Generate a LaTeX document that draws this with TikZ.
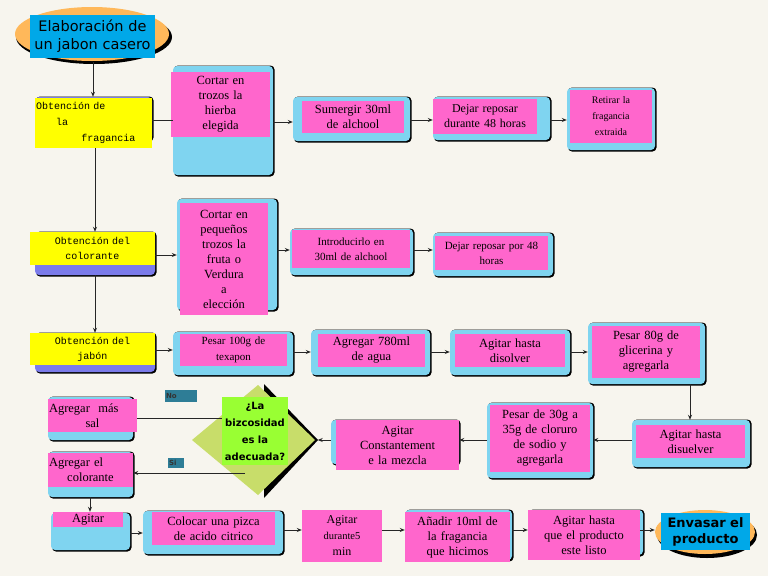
\documentclass[tikz,border=0pt]{standalone}
\usepackage{fontspec}
\setmainfont{Liberation Serif}
\newfontfamily\ttf{Liberation Mono}
\newfontfamily\sff{DejaVu Sans}
\usetikzlibrary{shapes.geometric,arrows.meta}
\definecolor{bg}{HTML}{F7F5EE}
\definecolor{bl}{HTML}{7FD4F0}
\definecolor{pk}{HTML}{FF66CC}
\definecolor{yl}{HTML}{FFFF00}
\definecolor{pu}{HTML}{7B7BEA}
\definecolor{dg}{HTML}{C8DD6A}
\definecolor{gr}{HTML}{99FF33}
\definecolor{or}{HTML}{FFB85A}
\definecolor{tb}{HTML}{00A8E8}
\definecolor{te}{HTML}{2E7D96}
\tikzset{x=1pt,y=-1pt,
 conn/.style={draw=black!85,line width=0.9pt},
 arr/.style={conn,-{Stealth[length=5pt,width=4pt]}},
 txt/.style={inner sep=1pt,align=center}}
% blue box: name x1 y1 x2 y2 fill
\newcommand\bbox[6]{%
 \fill[black,rounded corners=4pt] (#2+1,#3-0.5) rectangle (#4+1.5,#5+1.5);
 \fill[#6,rounded corners=4pt] (#2,#3) rectangle (#4,#5);
 \node[inner sep=0,minimum width={(#4-#2)*1pt},minimum height={(#5-#3)*1pt}] (#1) at ({(#2+#4)/2},{(#3+#5)/2}) {};}
% text rect: name x1 y1 x2 y2 fill font text
\newcommand\tbox[8]{%
 \node[fill=#6,inner sep=0,minimum width={(#4-#2)*1pt},minimum height={(#5-#3)*1pt}] (#1) at ({(#2+#4)/2},{(#3+#5)/2}) {};
 \node[txt,text width={(#4-#2-2)*1pt},font=\fontsize{12.5}{15}\selectfont#7] at (#1.center) {#8};}
\begin{document}
\begin{tikzpicture}
\fill[bg] (0,0) rectangle (768,576);
\useasboundingbox (0,0) rectangle (768,576);
% title
\fill[black] (94,37) ellipse (78 and 27);
\fill[or] (92,34) ellipse (77 and 27);
\tbox{titlet}{30}{15}{155}{58}{tb}{\sff\fontsize{14.5}{18}\selectfont}{Elaboración de\\un jabon casero}
% row 1
\bbox{frag}{35}{97}{152}{140}{pu}
\tbox{fragt}{35}{98}{152}{148}{yl}{\ttf\fontsize{10}{16}\selectfont}{\raggedright Obtención de\\\hspace*{2em}la\\\hspace*{3em}fragancia}
\bbox{cort}{173}{66}{273}{175}{bl}
\tbox{cortt}{171}{72}{270}{137}{pk}{}{Cortar en\\trozos la\\hierba\\elegida}
\bbox{sum}{293}{97}{410}{141}{bl}
\tbox{sumt}{302}{101}{404}{133}{pk}{}{Sumergir 30ml\\de alchool}
\bbox{dej}{433}{97}{550}{140}{bl}
\tbox{dejt}{433}{99}{537}{134}{pk}{\fontsize{12}{15}\selectfont}{Dejar reposar\\durante 48 horas}
\bbox{ret}{567}{88}{655}{150}{bl}
\tbox{rett}{570}{90}{652}{143}{pk}{\fontsize{10}{16}\selectfont}{Retirar la\\fragancia\\extraida}
% row 2
\bbox{col}{35}{232}{155}{275}{pu}
\tbox{colt}{30}{232}{155}{265}{yl}{\ttf\fontsize{10}{15}\selectfont}{Obtención del\\colorante}
\bbox{peq}{177}{199}{277}{310}{bl}
\tbox{peqt}{180}{203}{268}{315}{pk}{}{Cortar en\\pequeños\\trozos la\\fruta o\\Verdura\\a\\elección}
\bbox{intr}{290}{229}{413}{275}{bl}
\tbox{intrt}{292}{230}{410}{268}{pk}{\fontsize{11}{15}\selectfont}{Introducirlo en\\30ml de alchool}
\bbox{dej2}{433}{233}{553}{276}{bl}
\tbox{dej2t}{435}{236}{548}{270}{pk}{\fontsize{11}{15}\selectfont}{Dejar reposar por 48\\horas}
% row 3
\bbox{jab}{35}{333}{155}{372}{pu}
\tbox{jabt}{30}{333}{155}{365}{yl}{\ttf\fontsize{10}{15}\selectfont}{Obtención del\\jabón}
\bbox{pes}{173}{332}{293}{375}{bl}
\tbox{pest}{180}{334}{287}{366}{pk}{\fontsize{11}{16}\selectfont}{Pesar 100g de\\texapon}
\bbox{agr}{311}{330}{430}{375}{bl}
\tbox{agrt}{318}{334}{425}{367}{pk}{}{Agregar 780ml\\de agua}
\bbox{agi}{450}{330}{570}{375}{bl}
\tbox{agit}{455}{334}{565}{367}{pk}{}{Agitar hasta\\disolver}
\bbox{p80}{588}{323}{705}{384}{bl}
\tbox{p80t}{592}{326}{700}{378}{pk}{}{Pesar 80g de\\glicerina y\\agregarla}
% row 4
\bbox{dis}{632}{420}{750}{467}{bl}
\tbox{dist}{636}{425}{745}{458}{pk}{}{Agitar hasta\\disuelver}
\bbox{clo}{487}{403}{593}{478}{bl}
\tbox{clot}{490}{405}{590}{472}{pk}{}{Pesar de 30g a\\35g de cloruro\\de sodio y\\agregarla}
\bbox{mez}{331}{420}{459}{464}{bl}
\tbox{mezt}{336}{420}{459}{470}{pk}{}{Agitar\\Constantement\\e la mezcla}
\fill[black] (264,384) -- (318,440) -- (264,498) -- cycle;
\fill[dg] (258,385) -- (315,440) -- (258,495) -- (192,440) -- cycle;
\node[diamond,inner sep=0,minimum width=123pt,minimum height=112pt] (dia) at (256,440) {};
\tbox{diat}{222}{397}{288}{465}{gr}{\sff\bfseries\fontsize{10}{17}\selectfont}{¿La\\bizcosidad\\es la\\adecuada?}
\bbox{sal}{48}{397}{133}{440}{bl}
\tbox{salt}{48}{399}{137}{432}{pk}{}{\raggedright Agregar\ \ más\\sal}
\bbox{acol}{48}{452}{133}{497}{bl}
\tbox{acolt}{48}{453}{133}{487}{pk}{}{\raggedright Agregar el\\colorante}
\node[fill=te,inner sep=0,minimum width=32pt,minimum height=12pt,text width=30pt,font=\sff\bfseries\fontsize{7}{8}\selectfont,text=black!80] (no) at (181,396) {No};
\node[fill=te,inner sep=0,minimum width=16pt,minimum height=10pt,text width=14pt,font=\sff\bfseries\fontsize{7}{8}\selectfont,text=black!80] (si) at (176,463) {Si};
% row 5
\bbox{agt}{51}{513}{130}{550}{bl}
\tbox{agtt}{53}{512}{123}{527}{pk}{}{\raggedright Agitar}
\bbox{aci}{143}{511}{283}{554}{bl}
\tbox{acit}{152}{512}{275}{545}{pk}{}{Colocar una pizca\\de acido citrico}
\tbox{ag5}{302}{510}{382}{562}{pk}{\fontsize{12}{16}\selectfont}{Agitar\\{\fontsize{10.5}{16}\selectfont durante5}\\min}
\bbox{ana}{405}{510}{512}{560}{bl}
\tbox{anat}{405}{512}{510}{562}{pk}{}{Añadir 10ml de\\la fragancia\\que hicimos}
\bbox{lis}{528}{510}{643}{555}{bl}
\tbox{list}{528}{510}{640}{560}{pk}{}{Agitar hasta\\que el producto\\este listo}
\fill[black] (707,535) ellipse (50 and 23);
\fill[or] (705,532) ellipse (50 and 22);
\node[inner sep=0,minimum width=100pt,minimum height=44pt] (env) at (705,532) {};
\tbox{envt}{661}{513}{750}{550}{tb}{\sff\bfseries\fontsize{13}{16}\selectfont}{Envasar el\\producto}
% connectors
\draw[arr] (titlet.south -| 93,0) ++(0,4) -- (frag.north -| 93,0);
\draw[conn] (fragt.east |- 0,120) -- (cort.west |- 0,120);
\draw[arr] (cort.east |- 0,122) -- (sum.west |- 0,122);
\draw[arr] (sum.east |- 0,120) -- (dej.west |- 0,120);
\draw[arr] (dej.east |- 0,120) -- (ret.west |- 0,120);
\draw[arr] (fragt.south -| 95,0) -- (col.north -| 95,0);
\draw[arr] (col.east |- 0,255) -- (peq.west |- 0,255);
\draw[arr] (peq.east |- 0,250) -- (intr.west |- 0,250);
\draw[arr] (intr.east |- 0,250) -- (dej2.west |- 0,250);
\draw[arr] (col.south -| 95,0) -- (jabt.north -| 95,0);
\draw[arr] (jab.east |- 0,350) -- (pes.west |- 0,350);
\draw[arr] (pes.east |- 0,352) -- (agr.west |- 0,352);
\draw[arr] (agr.east |- 0,352) -- (agi.west |- 0,352);
\draw[arr] (agi.east |- 0,352) -- (p80.west |- 0,352);
\draw[arr] (p80.south -| 690,0) -- (dis.north -| 690,0);
\draw[arr] (dis.west |- 0,440) -- (clo.east |- 0,440);
\draw[arr] (clo.west |- 0,440) -- (mez.east |- 0,440);
\draw[arr] (mez.west |- 0,440) -- (dia.east);
\draw[conn] (diat.west |- 0,418) -- (salt.east |- 0,418);
\draw[arr] (dia.south west |- 0,473) ++(20,0) -- (acol.east |- 0,473);
\draw[arr] (acol.south -| 90,0) -- (agtt.north -| 90,0);
\draw[arr] (agt.east |- 0,533) -- (aci.west |- 0,533);
\draw[arr] (aci.east |- 0,530) -- (ag5.west |- 0,530);
\draw[arr] (ag5.east |- 0,530) -- (ana.west |- 0,530);
\draw[arr] (ana.east |- 0,530) -- (lis.west |- 0,530);
\draw[arr] (list.east |- 0,530) -- (env.west |- 0,530);
\end{tikzpicture}
\end{document}
